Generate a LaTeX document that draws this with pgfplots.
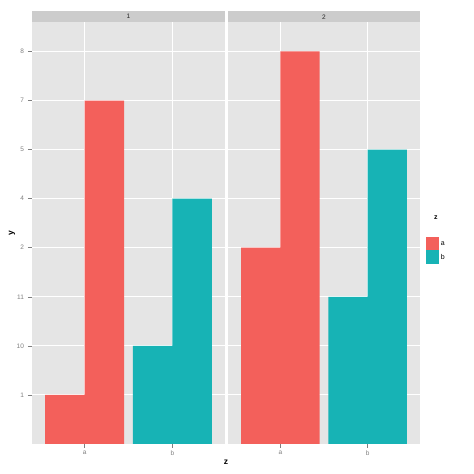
\documentclass[border=0pt]{standalone}
\usepackage{fontspec}
\setmainfont{Liberation Sans}
\usepackage{pgfplots}
\pgfplotsset{compat=1.18}
\definecolor{gred}{HTML}{F3605B}
\definecolor{gteal}{HTML}{17B3B5}
\definecolor{panelbg}{HTML}{E5E5E5}
\definecolor{stripbg}{HTML}{CCCCCC}
\definecolor{ticklab}{HTML}{7F7F7F}
\pgfplotsset{
  facet/.style={
    scale only axis,
    height=422pt,
    xmin=0.4, xmax=2.6,
    ymin=0, ymax=8.6,
    axis background/.style={fill=panelbg},
    axis line style={draw=none},
    grid=major,
    major grid style={white, line width=1.1pt},
    xtick={1,2}, xticklabels={a,b},
    ytick={1,...,8},
    /pgf/number format/assume math mode=true,
    tick style={ticklab, line width=0.5pt},
    major tick length=4pt,
    tick align=outside,
    xtick pos=bottom, ytick pos=left,
    tick label style={font=\fontsize{6.5}{7}\selectfont, text=ticklab},
    yticklabel style={xshift=-0.5pt},
    xticklabel style={yshift=0.5pt},
    ybar, bar width=0.45, bar shift=0,
    clip=false,
  }
}
\begin{document}
\begin{tikzpicture}[x=1pt,y=1pt]
\useasboundingbox (0,0) rectangle (474,474);
\begin{axis}[facet, at={(32pt,30pt)}, anchor=south west, width=193pt,
  yticklabels={1,10,11,2,4,5,7,8}]
\fill[stripbg] (rel axis cs:0,1) rectangle ([yshift=10.5pt]rel axis cs:1,1);
\node[font=\fontsize{6.5}{7}\selectfont, text=black!85] at ([yshift=5.25pt]rel axis cs:0.5,1) {1};
\addplot[fill=gred, draw=none] coordinates {(0.775,1) (1.225,7)};
\addplot[fill=gteal, draw=none] coordinates {(1.775,2) (2.225,5)};
\end{axis}
\begin{axis}[facet, at={(228pt,30pt)}, anchor=south west, width=192pt,
  yticklabels={}, ytick style={draw=none},
  legend style={at={(1.03,0.49)}, anchor=north west, draw=none, fill=none,
    font=\fontsize{7}{8}\selectfont, row sep=-0.4pt, inner sep=0pt, outer sep=0pt,
    legend cell align=left},
  legend image code/.code={\fill[#1] (0pt,-6.8pt) rectangle (13pt,6.8pt);}]
\fill[stripbg] (rel axis cs:0,1) rectangle ([yshift=10.5pt]rel axis cs:1,1);
\node[font=\fontsize{6.5}{7}\selectfont, text=black!85] at ([yshift=5.25pt]rel axis cs:0.5,1) {2};
\addplot[fill=gred, draw=none] coordinates {(0.775,4) (1.225,8)};
\addlegendentry{a}
\addplot[fill=gteal, draw=none] coordinates {(1.775,3) (2.225,6)};
\addlegendentry{b}
\end{axis}
\node[font=\bfseries\fontsize{7}{8}\selectfont, anchor=west] at (430.5,256) {z};
\node[font=\bfseries\fontsize{8.5}{9}\selectfont] at (226,12) {z};
\node[font=\bfseries\fontsize{8.5}{9}\selectfont, rotate=90] at (12,241) {y};
\end{tikzpicture}
\end{document}
